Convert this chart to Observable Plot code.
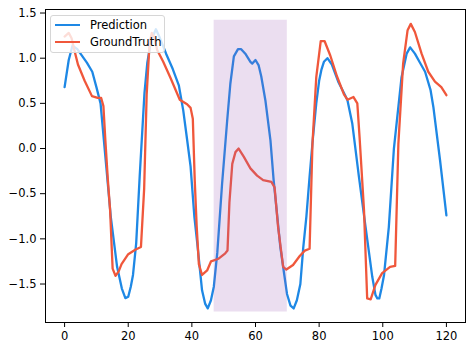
<!DOCTYPE html>
<html>
<head>
<meta charset="utf-8">
<script src="https://cdn.jsdelivr.net/npm/d3@7"></script>
<script src="https://cdn.jsdelivr.net/npm/@observablehq/plot@0.6"></script>
<style>
  html, body { margin: 0; padding: 0; background: #fff; }
  #wrap { position: relative; width: 474px; height: 351px; font-family: "DejaVu Sans", sans-serif; }
  #legend { position: absolute; left: 50px; top: 15px; width: 115px; height: 38px;
    border: 1px solid #d6d6d6; border-radius: 3px; background: rgba(255,255,255,0.8); box-sizing: border-box; }
  .item { position: absolute; left: 4px; height: 14px; line-height: 14px; display: flex; align-items: center; font-size: 11.5px; color: #000; }
  .swatch { width: 25px; height: 0; border-top: 2.3px solid; margin-right: 10px; }
</style>
</head>
<body>
<div id="wrap"></div>
<script>
// Series names
const seriesNames = ["Prediction", "GroundTruth"];
const seriesColors = ["#1e88e5", "#f0573b"];

// Prediction (x index, value)
const predX = [0,1.3,2.5,4,5,7,8.7,10,11.3,13.2,14.5,16.5,18,19.1,20,20.8,21.5,22.5,23.6,25.1,26,27.2,28.7,30,31.9,34,35.9,37.3,38.5,39.6,40.8,41.7,43.2,44.2,45,46,46.9,48,49.5,51.1,52.1,53.2,54.5,55.5,56.8,58.4,59,60,61,61.8,63.1,64.7,65.7,67.8,69.9,71,72,73,74.1,75,76,77,78,79.1,80,80.7,81.5,82.6,84,86,88,88.9,90.4,92.5,94.6,96.7,97.7,98.3,98.9,99.6,100.4,101.9,103.5,105.9,107.5,108.6,110.1,111.7,113.3,115,115.9,118,120];
const predY = [0.68,0.98,1.14,1.10,1.05,0.95,0.85,0.68,0.50,-0.24,-0.75,-1.31,-1.55,-1.656,-1.64,-1.53,-1.40,-1.05,-0.31,0.61,0.95,1.20,1.32,1.22,1.05,0.88,0.70,0.42,0.10,-0.20,-0.76,-1.05,-1.57,-1.72,-1.77,-1.68,-1.53,-1.15,-0.39,0.31,0.72,1.02,1.10,1.10,1.05,0.96,0.94,0.98,0.92,0.80,0.535,0.09,-0.35,-1.09,-1.61,-1.74,-1.77,-1.68,-1.50,-1.10,-0.75,-0.31,0.10,0.50,0.75,0.87,0.96,1.00,0.93,0.74,0.60,0.535,0.28,-0.31,-0.87,-1.42,-1.62,-1.66,-1.66,-1.55,-1.40,-0.87,0.0,0.79,1.05,1.12,1.05,0.95,0.85,0.65,0.46,-0.13,-0.74];

// GroundTruth (x index, value)
const gtX = [0,1.3,2.2,3,4.2,6.3,8.6,10.4,11.5,12.2,12.8,13.6,14.3,15.1,16,17,17.9,20,22.2,24,25,25.8,26.7,27.4,28.3,29.1,31,33.3,36.2,38.5,39.6,40.3,40.9,41.5,42.2,43.2,44.8,46,48.4,50.5,51.2,51.8,52.7,53.7,54.7,56.3,58.4,60.5,62.4,65,66,67.1,68.7,69.7,71.8,73.9,75.5,77,77.9,79.1,80.5,81.7,83.5,85.6,87.8,88.9,90.8,92,92.7,94.1,95.1,96.2,97.7,99.8,102.3,103.9,104.9,106.4,107.8,108.8,110.1,112.2,114.3,116.4,118.4,120];
const gtY = [1.24,1.28,1.22,1.10,0.93,0.75,0.58,0.56,0.56,0.47,0.10,-0.35,-0.68,-1.33,-1.41,-1.36,-1.28,-1.17,-1.12,-1.09,-0.45,0.60,1.16,1.28,1.22,1.09,0.96,0.78,0.54,0.49,0.45,0.33,-0.35,-0.85,-1.28,-1.40,-1.35,-1.25,-1.22,-1.16,-1.13,-0.60,-0.17,-0.04,0.0,-0.09,-0.22,-0.30,-0.35,-0.37,-0.43,-0.87,-1.31,-1.34,-1.29,-1.19,-1.13,-1.11,0.05,0.79,1.19,1.19,1.03,0.80,0.60,0.54,0.57,0.50,0.13,-0.68,-1.66,-1.67,-1.51,-1.38,-1.31,-1.30,0.05,0.94,1.31,1.38,1.29,1.05,0.85,0.74,0.68,0.59];

// Highlighted span
const spanX = [47, 70];
const spanY = [-1.81, 1.42];

// Ticks
const xTicks = [0, 20, 40, 60, 80, 100, 120];
const yTicks = [-1.5, -1.0, -0.5, 0.0, 0.5, 1.0, 1.5];

const pred = predX.map((x, i) => ({x, y: predY[i]}));
const gt = gtX.map((x, i) => ({x, y: gtY[i]}));
const span = [{x1: spanX[0], x2: spanX[1], y1: spanY[0], y2: spanY[1]}];

const chart = Plot.plot({
  width: 474,
  height: 351,
  marginLeft: 45,
  marginRight: 9,
  marginTop: 9,
  marginBottom: 29,
  style: {fontFamily: "DejaVu Sans, sans-serif", fontSize: "11.5px", color: "#000", background: "#fff"},
  x: {domain: [-6, 126]},
  y: {domain: [-1.926, 1.539]},
  marks: [
    Plot.line(pred, {x: "x", y: "y", stroke: seriesColors[0], strokeWidth: 2.3}),
    Plot.line(gt, {x: "x", y: "y", stroke: seriesColors[1], strokeWidth: 2.3}),
    Plot.rect(span, {x1: "x1", x2: "x2", y1: "y1", y2: "y2", fill: "#9b59b6", fillOpacity: 0.2}),
    Plot.frame({stroke: "#000", strokeWidth: 1}),
    Plot.axisX({ticks: xTicks, tickSize: 5, tickPadding: 4, tickFormat: d3.format("d"), label: null, fontSize: 11.5}),
    Plot.axisY({ticks: yTicks, tickSize: 5, tickPadding: 4, tickFormat: d3.format(".1f"), label: null, fontSize: 11.5})
  ]
});

const wrap = document.getElementById("wrap");
wrap.appendChild(chart);

const legend = document.createElement("div");
legend.id = "legend";
seriesNames.forEach((name, i) => {
  const item = document.createElement("div");
  item.className = "item";
  item.style.top = (i === 0 ? 2 : 19) + "px";
  const sw = document.createElement("div");
  sw.className = "swatch";
  sw.style.borderTopColor = seriesColors[i];
  item.appendChild(sw);
  const t = document.createElement("span");
  t.textContent = name;
  item.appendChild(t);
  legend.appendChild(item);
});
wrap.appendChild(legend);
</script>
</body>
</html>
